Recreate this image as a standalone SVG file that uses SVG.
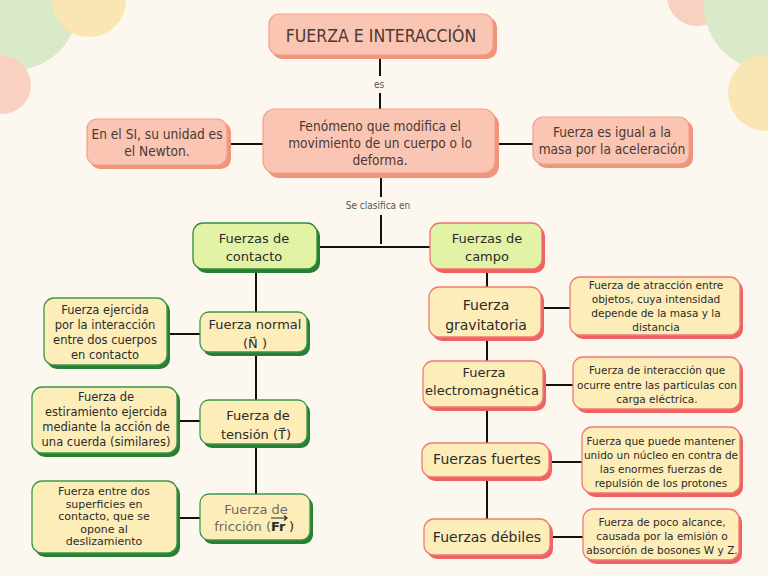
<svg xmlns="http://www.w3.org/2000/svg" width="768" height="576" viewBox="0 0 768 576">
<defs>
<style>
.bg{fill:#fdf8ef}
.pk{fill:#fbc5b3;stroke:#f0a088;stroke-width:1.2}
.pks{fill:#f0957c}
.gn{fill:#e3f3a6;stroke:#2f8f3c;stroke-width:1.3}
.gns{fill:#2a7d33}
.gr{fill:#e3f3a6;stroke:#f07070;stroke-width:1.3}
.yg{fill:#fdeeb9;stroke:#3a984a;stroke-width:1.3}
.ygs{fill:#2b7f35}
.yr{fill:#fdeeb9;stroke:#f07a78;stroke-width:1.3}
.rs{fill:#ee6262}
.ln{stroke:#111;stroke-width:2;fill:none}
text{font-family:"DejaVu Sans","Liberation Sans",sans-serif;fill:#2b2b2b;text-anchor:middle}
.c{font-family:"DejaVu Sans Condensed","DejaVu Sans",sans-serif;font-stretch:condensed;fill:#4a3833}
.t13{font-size:13px}
.t135{font-size:13.6px}
.t14{font-size:14px}
.t11{font-size:11.5px}
.t10{font-size:10.5px}
.lab{font-size:10px;fill:#555}
</style>
</defs>
<rect class="bg" x="0" y="0" width="768" height="576"/>
<g id="decor" opacity="0.75">
<circle cx="14" cy="6" r="64" fill="#cfe6bd"/>
<circle cx="89" cy="0" r="37" fill="#f8e0a0"/>
<circle cx="2" cy="85" r="29" fill="#f9c3b2"/>
<circle cx="697" cy="-4" r="30" fill="#f9c3b2"/>
<circle cx="770" cy="5" r="66" fill="#cfe6bd"/>
<circle cx="766" cy="93" r="38" fill="#f8e0a0"/>
</g>
<g id="connectors">
<line class="ln" x1="380" y1="58" x2="380" y2="76"/>
<line class="ln" x1="380" y1="93" x2="380" y2="109"/>
<line class="ln" x1="228" y1="144" x2="263" y2="144"/>
<line class="ln" x1="496" y1="144" x2="533" y2="144"/>
<line class="ln" x1="381" y1="176" x2="381" y2="197"/>
<line class="ln" x1="381" y1="215" x2="381" y2="244"/>
<line class="ln" x1="317" y1="247" x2="430" y2="247"/>
<line class="ln" x1="256" y1="271" x2="256" y2="494"/>
<line class="ln" x1="167" y1="334" x2="200" y2="334"/>
<line class="ln" x1="177" y1="421" x2="200" y2="421"/>
<line class="ln" x1="177" y1="518" x2="200" y2="518"/>
<line class="ln" x1="487" y1="271" x2="487" y2="519"/>
<line class="ln" x1="541" y1="308" x2="570" y2="308"/>
<line class="ln" x1="543" y1="385" x2="573" y2="385"/>
<line class="ln" x1="549" y1="462" x2="582" y2="462"/>
<line class="ln" x1="550" y1="537" x2="583" y2="537"/>
<text class="lab c" x="379" y="88">es</text>
<text class="lab c" x="378" y="209">Se  clasifica en</text>
</g>
<g id="n-titulo">
<rect class="pks" x="272" y="17" width="225" height="42" rx="10"/>
<rect class="pk" x="269" y="14" width="224" height="41" rx="10"/>
<text class="c" x="381" y="42" style="font-size:17.5px">FUERZA E INTERACCIÓN</text>
</g>
<g id="n-fenomeno">
<rect class="pks" x="267" y="113" width="232" height="65" rx="12"/>
<rect class="pk" x="263" y="109" width="232" height="64" rx="12"/>
<text class="c t135" x="380" y="131">Fenómeno que modifica el</text>
<text class="c t135" x="380" y="148">movimiento de un cuerpo o  lo</text>
<text class="c t135" x="380" y="165">deforma.</text>
</g>
<g id="n-si">
<rect class="pks" x="90" y="122" width="141" height="47" rx="10"/>
<rect class="pk" x="87" y="119" width="140" height="46" rx="10"/>
<text class="c t135" x="157" y="139">En el SI, su unidad es</text>
<text class="c t135" x="157" y="156">el Newton.</text>
</g>
<g id="n-masa">
<rect class="pks" x="536" y="120" width="157" height="48" rx="10"/>
<rect class="pk" x="533" y="117" width="156" height="47" rx="10"/>
<text class="c t135" x="612" y="137">Fuerza es igual a la</text>
<text class="c t135" x="612" y="154">masa por la aceleración</text>
</g>
<g id="n-contacto">
<rect class="gns" x="196" y="226" width="124" height="47" rx="10"/>
<rect class="gn" x="193" y="223" width="124" height="46" rx="10"/>
<text class="t13" x="254" y="243">Fuerzas de</text>
<text class="t13" x="254" y="261">contacto</text>
</g>
<g id="n-campo">
<rect class="rs" x="433" y="226" width="112" height="47" rx="10"/>
<rect class="gr" x="430" y="223" width="112" height="46" rx="10"/>
<text class="t13" x="487" y="243">Fuerzas de</text>
<text class="t13" x="487" y="261">campo</text>
</g>
<g id="n-normal">
<rect class="ygs" x="203" y="315" width="107" height="41" rx="9"/>
<rect class="yg" x="200" y="312" width="107" height="40" rx="9"/>
<text class="t13" x="255" y="329">Fuerza normal</text>
<text class="t13" x="255" y="348">(N⃗ )</text>
</g>
<g id="n-ejercida">
<rect class="ygs" x="47" y="301" width="123" height="68" rx="10"/>
<rect class="yg" x="44" y="298" width="123" height="67" rx="10"/>
<text class="t11" x="105" y="314">Fuerza ejercida</text>
<text class="t11" x="105" y="329">por la interacción</text>
<text class="t11" x="105" y="344">entre dos cuerpos</text>
<text class="t11" x="105" y="359">en contacto</text>
</g>
<g id="n-tension">
<rect class="ygs" x="203" y="403" width="107" height="45" rx="9"/>
<rect class="yg" x="200" y="400" width="107" height="44" rx="9"/>
<text class="t13" x="258" y="420">Fuerza de</text>
<text class="t13" x="256" y="439">tensión (T⃗)</text>
</g>
<g id="n-estiramiento">
<rect class="ygs" x="35" y="390" width="145" height="67" rx="10"/>
<rect class="yg" x="32" y="387" width="145" height="66" rx="10"/>
<text class="t11" x="106" y="401">Fuerza de</text>
<text class="t11" x="106" y="416">estiramiento ejercida</text>
<text class="t11" x="106" y="431">mediante la acción de</text>
<text class="t11" x="106" y="446">una cuerda (similares)</text>
</g>
<g id="n-friccion">
<rect class="ygs" x="203" y="497" width="110" height="47" rx="9"/>
<rect class="yg" x="200" y="494" width="110" height="46" rx="9"/>
<text class="t13" x="256" y="514" style="fill:#6f6a62">Fuerza de</text>
<text class="t13" x="271" y="531" style="fill:#6f6a62;text-anchor:end">fricción (</text>
<text class="t13" x="271" y="531" style="font-weight:bold;text-anchor:start">Fr</text>
<text class="t13" x="289" y="531" style="text-anchor:start">)</text>
<path d="M271 518 H287 M284 515.5 L287 518 L284 520.5" stroke="#2b2b2b" stroke-width="1.2" fill="none"/>
</g>
<g id="n-superficies">
<rect class="ygs" x="35" y="484" width="145" height="73" rx="10"/>
<rect class="yg" x="32" y="481" width="145" height="72" rx="10"/>
<text class="t10" x="104" y="495" style="font-size:11px">Fuerza  entre dos</text>
<text class="t10" x="104" y="507.5" style="font-size:11px">superficies en</text>
<text class="t10" x="104" y="520" style="font-size:11px">contacto, que se</text>
<text class="t10" x="104" y="532.5" style="font-size:11px">opone al</text>
<text class="t10" x="104" y="545" style="font-size:11px">deslizamiento</text>
</g>
<g id="n-gravitatoria">
<rect class="rs" x="432" y="290" width="112" height="51" rx="10"/>
<rect class="yr" x="429" y="287" width="112" height="50" rx="10"/>
<text class="t14" x="486" y="310">Fuerza</text>
<text class="t14" x="486" y="330">gravitatoria</text>
</g>
<g id="n-atraccion">
<rect class="rs" x="573" y="280" width="170" height="59" rx="10"/>
<rect class="yr" x="570" y="277" width="170" height="58" rx="10"/>
<text class="t10" x="656" y="289">Fuerza de atracción entre</text>
<text class="t10" x="656" y="303">objetos, cuya intensidad</text>
<text class="t10" x="656" y="317">depende de la masa y la</text>
<text class="t10" x="656" y="331">distancia</text>
</g>
<g id="n-electro">
<rect class="rs" x="426" y="364" width="120" height="47" rx="10"/>
<rect class="yr" x="423" y="361" width="120" height="46" rx="10"/>
<text class="t13" x="484" y="377">Fuerza</text>
<text class="t13" x="482" y="395">electromagnética</text>
</g>
<g id="n-interaccion">
<rect class="rs" x="576" y="360" width="167" height="53" rx="10"/>
<rect class="yr" x="573" y="357" width="167" height="52" rx="10"/>
<text class="t10" x="657" y="374">Fuerza de interacción que</text>
<text class="t10" x="657" y="389">ocurre entre las particulas con</text>
<text class="t10" x="657" y="403">carga eléctrica.</text>
</g>
<g id="n-fuertes">
<rect class="rs" x="425" y="446" width="127" height="35" rx="10"/>
<rect class="yr" x="422" y="443" width="127" height="34" rx="10"/>
<text class="t14" x="487" y="464">Fuerzas fuertes</text>
</g>
<g id="n-nucleo">
<rect class="rs" x="585" y="430" width="158" height="67" rx="10"/>
<rect class="yr" x="582" y="427" width="158" height="66" rx="10"/>
<text class="t10" x="661" y="445">Fuerza que puede mantener</text>
<text class="t10" x="661" y="459">unido un núcleo en contra de</text>
<text class="t10" x="661" y="473">las enormes fuerzas de</text>
<text class="t10" x="661" y="487">repulsión de los protones</text>
</g>
<g id="n-debiles">
<rect class="rs" x="427" y="522" width="126" height="37" rx="10"/>
<rect class="yr" x="424" y="519" width="126" height="36" rx="10"/>
<text class="t14" x="487" y="542">Fuerzas débiles</text>
</g>
<g id="n-alcance">
<rect class="rs" x="586" y="512" width="156" height="52" rx="10"/>
<rect class="yr" x="583" y="509" width="156" height="51" rx="10"/>
<text class="t10" x="662" y="526">Fuerza de poco alcance,</text>
<text class="t10" x="662" y="540">causada por la emisión o</text>
<text class="t10" x="662" y="554">absorción de bosones W y Z.</text>
</g>
</svg>
